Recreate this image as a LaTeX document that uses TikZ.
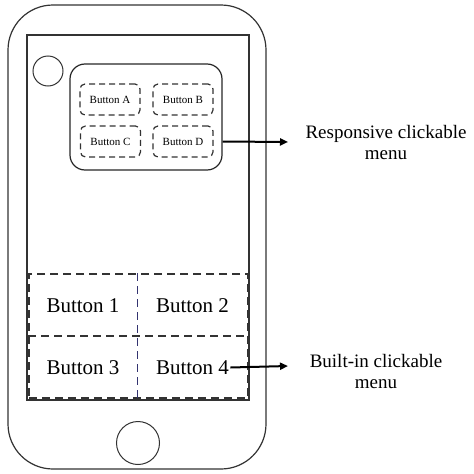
\documentclass[tikz,border=0pt]{standalone}
\usepackage{fontspec}
\setmainfont{Liberation Serif}
\usetikzlibrary{arrows.meta, positioning}

\begin{document}
\begin{tikzpicture}[x=1pt, y=-1pt, line width=1pt,
    every node/.style={inner sep=0pt},
    smallbtn/.style={draw=black!80, dashed, dash pattern=on 6pt off 4pt, line width=1.2pt,
      rounded corners=5pt, minimum width=60pt, minimum height=31pt,
      font=\fontsize{11}{13}\selectfont},
    bigbtn/.style={font=\fontsize{21}{24}\selectfont, inner sep=1pt},
    label/.style={align=center, font=\fontsize{19}{21}\selectfont}]
    \useasboundingbox (0,0) rectangle (474,474);

    % Draw the phone
    \node[draw=black!80, line width=1.2pt, rounded corners=45pt, minimum width=258pt, minimum height=464pt] (phone) at (137,237) {};
    \node[draw=black!80, line width=1.2pt, minimum width=222pt, minimum height=365pt] (screen) at (138,217.5) {};
    \node[draw=black!80, circle, minimum size=30pt] (camera) at (48,71) {};
    \node[draw=black!80, circle, minimum size=43pt] (home) at (138,443) {};

    % Draw the responsive menu
    \node[draw=black!85, line width=1.2pt, rounded corners=15pt, minimum width=152pt, minimum height=106pt] (menu) at (146,117) {};
    \node[smallbtn] (btnA) at (110,99.5) {Button A};
    \node[smallbtn] (btnB) at (183,99.5) {Button B};
    \node[smallbtn] (btnC) at (110.5,141.5) {Button C};
    \node[smallbtn] (btnD) at (183,141.5) {Button D};

    % Draw the built-in menu
    \node[draw=black!80, dashed, dash pattern=on 8pt off 5pt, line width=1.5pt, minimum width=219pt, minimum height=124pt] (builtin) at (138.5,336) {};
    \draw[black!80, dash pattern=on 8pt off 5pt, line width=1.5pt] (builtin.west) -- (builtin.east);
    \draw[blue!30!black!80, dash pattern=on 8pt off 5pt, line width=0.8pt] ([xshift=-1.5pt]builtin.north) -- ([xshift=-1.5pt]builtin.south);
    \node[bigbtn] (btn1) at (83,305.5) {Button 1};
    \node[bigbtn] (btn2) at (192.5,305.5) {Button 2};
    \node[bigbtn] (btn3) at (83,367.5) {Button 3};
    \node[bigbtn] (btn4) at (192.5,367.5) {Button 4};

    % Labels and arrows
    \node[label] (resp) at (386,142.5) {Responsive clickable\\menu};
    \node[label] (built) at (376,371.5) {Built-in clickable\\menu};
    \coordinate (respend) at (288,142);
    \coordinate (builtend) at (288,366);
    \draw[-{Triangle[length=8pt,width=7pt]}, line width=2pt] (btnD.east -| menu.east) -- (respend);
    \draw[-{Triangle[length=8pt,width=7pt]}, line width=2pt] (btn4.east) -- (builtend);
\end{tikzpicture}
\end{document}
